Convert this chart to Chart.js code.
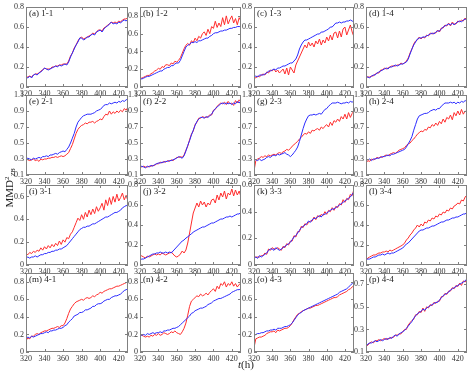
<!DOCTYPE html>
<html>
<head>
<meta charset="utf-8">
<script src="https://cdn.jsdelivr.net/npm/chart.js@4.4.0/dist/chart.umd.min.js"></script>
<style>
  body { margin: 0; background: #fff; width: 474px; height: 375px; position: relative; overflow: hidden; font-family: "Liberation Serif", serif; }
  canvas { position: absolute; z-index: 1; }
  #ylab { position: absolute; z-index: 5; left: -33px; top: 181px; width: 80px; height: 14px; line-height: 14px; text-align: center; transform: rotate(-90deg); font-size: 11px; color: #222; white-space: nowrap; }
  #ylab sup { font-size: 7px; vertical-align: 4px; }
  #ylab sub { font-size: 7px; vertical-align: -2px; font-style: italic; }
  #xlab { position: absolute; z-index: 5; left: 238px; top: 358px; font-size: 11px; line-height: 12px; color: #222; }
</style>
</head>
<body>
<div id="ylab">MMD<sup>2</sup><sub>ZB</sub></div>
<div id="xlab"><i>t</i>(h)</div>
<script>
// time axis (hours)
const hours = [320,322,324,326,328,330,332,334,336,338,340,342,344,346,348,350,352,354,356,358,
  360,362,364,366,368,370,372,374,376,378,380,382,384,386,388,390,392,394,396,398,
  400,402,404,406,408,410,412,414,416,418,420,422,424,426,428,430];
const xTicks = [320, 340, 360, 380, 400, 420];

const panelTitles = ['(a) 1-1','(b) 1-2','(c) 1-3','(d) 1-4','(e) 2-1','(f) 2-2','(g) 2-3','(h) 2-4',
  '(i) 3-1','(j) 3-2','(k) 3-3','(l) 3-4','(m) 4-1','(n) 4-2','(o) 4-3','(p) 4-4'];
const yMins = [0,0,0,0, 0.1,0.1,0.1,0.1, 0,0,0,0, 0,0,0,0.1];
const yMaxs = [0.8,0.9,0.8,0.8, 1.1,1.1,1.1,1.1, 0.7,0.8,0.6,0.8, 0.9,0.9,0.9,0.8];
const ticks08 = [0,0.2,0.4,0.6,0.8];
const ticks11 = [0.1,0.3,0.5,0.7,0.9,1.1];
const ticks06 = [0,0.2,0.4,0.6];
const ticks07 = [0.1,0.3,0.5,0.7];
const yTickSets = [ticks08,ticks08,ticks08,ticks08, ticks11,ticks11,ticks11,ticks11,
  ticks06,ticks08,ticks06,ticks08, ticks08,ticks08,ticks08,ticks07];

// blue series
const blueA = [.10,.09,.11,.09,.12,.13,.12,.14,.15,.17,.19,.18,.17,.18,.19,.20,.21,.20,.22,.21,.22,.23,.22,.25,.30,.34,.38,.42,.45,.49,.49,.47,.48,.50,.50,.52,.53,.52,.55,.56,.57,.55,.58,.60,.61,.63,.65,.63,.64,.63,.65,.64,.66,.67,.66,.68];
const blueB = [.10,.09,.10,.11,.12,.12,.13,.14,.15,.16,.17,.18,.18,.20,.21,.22,.22,.24,.24,.26,.27,.27,.30,.35,.40,.45,.47,.48,.50,.50,.51,.50,.52,.52,.53,.54,.55,.55,.57,.58,.60,.61,.61,.62,.63,.63,.64,.64,.65,.66,.66,.67,.67,.68,.68,.68];
const blueC = [.10,.11,.10,.12,.12,.12,.13,.14,.16,.16,.17,.18,.17,.19,.19,.20,.21,.21,.22,.23,.24,.24,.26,.28,.32,.38,.42,.45,.47,.47,.48,.49,.50,.51,.52,.53,.53,.55,.55,.56,.57,.58,.60,.60,.62,.64,.64,.65,.64,.65,.65,.66,.66,.67,.66,.65];
const blueD = [.10,.10,.09,.11,.12,.12,.14,.15,.16,.17,.18,.19,.18,.20,.20,.21,.22,.21,.22,.23,.23,.24,.25,.28,.33,.38,.42,.45,.48,.49,.49,.50,.50,.51,.52,.53,.54,.53,.55,.56,.56,.58,.60,.61,.62,.63,.62,.64,.62,.64,.65,.66,.65,.67,.68,.67];
const blueE = [.30,.31,.30,.29,.31,.30,.31,.32,.31,.33,.33,.34,.33,.35,.35,.36,.37,.36,.38,.39,.40,.39,.42,.45,.50,.56,.62,.70,.76,.79,.82,.84,.85,.86,.86,.86,.87,.88,.90,.91,.92,.94,.97,.98,.98,1.00,.99,1.00,1.01,1.00,1.02,1.01,1.03,1.02,1.04,1.05];
const blueF = [.20,.21,.20,.19,.21,.20,.22,.21,.23,.24,.25,.25,.26,.26,.27,.27,.28,.28,.29,.30,.31,.33,.32,.31,.34,.40,.47,.53,.60,.66,.72,.77,.80,.82,.82,.81,.83,.82,.84,.86,.90,.93,.95,.97,.99,1.00,.99,1.00,.99,1.00,.98,1.00,.99,1.02,1.00,1.03];
const blueG = [.30,.29,.28,.30,.28,.29,.30,.32,.33,.32,.34,.35,.34,.36,.35,.36,.37,.38,.36,.35,.33,.35,.38,.41,.45,.52,.60,.68,.75,.80,.84,.85,.85,.86,.85,.86,.87,.86,.89,.92,.93,.96,.98,1.00,1.00,1.00,1.01,1.00,.99,1.00,1.00,1.01,1.00,1.02,1.01,1.03];
const blueH = [.30,.29,.30,.28,.30,.30,.31,.31,.32,.33,.33,.34,.35,.34,.36,.36,.37,.38,.39,.40,.41,.42,.45,.49,.53,.58,.66,.73,.80,.84,.85,.86,.87,.87,.88,.90,.91,.92,.91,.93,.93,.96,.98,1.00,1.00,1.00,1.01,1.00,1.01,.99,1.01,1.00,1.02,1.01,1.03,1.02];
const blueI = [.06,.07,.06,.07,.07,.08,.07,.08,.09,.09,.10,.10,.11,.11,.12,.12,.13,.13,.14,.14,.15,.16,.17,.19,.21,.23,.25,.27,.29,.31,.32,.33,.33,.34,.34,.35,.36,.36,.37,.38,.39,.40,.41,.42,.42,.43,.44,.45,.46,.46,.47,.48,.50,.51,.52,.52];
const blueJ = [.05,.06,.06,.07,.08,.09,.10,.11,.11,.12,.12,.13,.12,.12,.13,.12,.13,.12,.14,.16,.18,.20,.22,.24,.25,.27,.28,.30,.31,.33,.34,.35,.36,.37,.38,.38,.39,.40,.41,.42,.42,.43,.44,.45,.46,.46,.47,.48,.48,.49,.48,.49,.50,.51,.51,.53];
const blueK = [.05,.06,.05,.07,.06,.07,.08,.09,.11,.12,.12,.11,.13,.12,.11,.12,.13,.14,.15,.16,.17,.19,.21,.22,.24,.26,.28,.29,.30,.31,.33,.32,.34,.35,.35,.36,.37,.36,.38,.38,.39,.40,.41,.42,.42,.43,.44,.45,.46,.47,.48,.49,.50,.51,.53,.55];
const blueL = [.05,.06,.06,.07,.08,.08,.09,.10,.10,.11,.10,.11,.12,.11,.12,.12,.13,.14,.15,.16,.17,.19,.21,.22,.24,.26,.28,.30,.32,.34,.35,.35,.36,.37,.37,.38,.39,.39,.40,.41,.42,.43,.43,.44,.45,.45,.46,.47,.47,.48,.48,.49,.50,.51,.51,.53];
const blueM = [.15,.17,.16,.18,.17,.18,.19,.20,.21,.21,.22,.23,.22,.24,.24,.25,.25,.26,.27,.27,.28,.30,.31,.34,.36,.38,.41,.42,.43,.45,.45,.46,.48,.48,.49,.50,.52,.52,.54,.55,.55,.56,.58,.59,.60,.60,.62,.63,.64,.64,.65,.66,.68,.70,.71,.72];
const blueN = [.20,.19,.20,.19,.21,.20,.21,.22,.21,.22,.22,.23,.22,.24,.24,.25,.25,.26,.27,.27,.28,.29,.31,.33,.35,.37,.39,.41,.44,.45,.47,.48,.49,.50,.50,.51,.52,.54,.55,.56,.58,.59,.60,.61,.61,.62,.63,.64,.65,.66,.68,.69,.70,.71,.71,.72];
const blueO = [.18,.20,.21,.21,.22,.22,.23,.24,.24,.25,.25,.26,.25,.27,.27,.27,.28,.29,.29,.30,.31,.33,.36,.39,.42,.44,.45,.47,.48,.49,.50,.51,.52,.53,.54,.55,.56,.57,.58,.59,.60,.61,.62,.63,.64,.65,.66,.68,.69,.70,.71,.72,.74,.76,.78,.80];
const blueP = [.15,.17,.18,.18,.19,.20,.19,.20,.21,.20,.21,.22,.21,.23,.22,.24,.25,.24,.26,.27,.28,.29,.31,.33,.35,.37,.40,.42,.44,.45,.46,.48,.47,.49,.50,.51,.52,.53,.54,.54,.56,.58,.60,.61,.62,.63,.65,.66,.67,.68,.69,.70,.71,.72,.73,.75];

// red series
const redA = [.10,.10,.11,.10,.12,.13,.13,.14,.16,.17,.19,.18,.18,.18,.20,.20,.21,.21,.22,.22,.23,.23,.23,.26,.31,.34,.39,.42,.46,.49,.50,.48,.49,.50,.51,.52,.54,.53,.55,.57,.57,.56,.59,.60,.62,.63,.65,.64,.65,.64,.66,.65,.67,.68,.68,.70];
const redB = [.10,.10,.11,.12,.13,.13,.15,.16,.18,.19,.21,.20,.23,.22,.25,.25,.24,.27,.26,.29,.28,.30,.33,.38,.43,.47,.49,.47,.52,.50,.55,.52,.57,.55,.60,.62,.58,.65,.60,.68,.66,.74,.67,.72,.68,.78,.70,.80,.71,.76,.80,.72,.77,.70,.78,.74];
const redC = [.10,.09,.11,.10,.12,.13,.12,.15,.14,.17,.16,.18,.15,.17,.14,.16,.18,.13,.19,.12,.20,.17,.14,.22,.26,.30,.34,.38,.42,.39,.45,.41,.44,.40,.46,.43,.48,.42,.47,.44,.50,.46,.52,.47,.54,.55,.49,.56,.50,.58,.60,.52,.57,.62,.55,.50];
const redD = [.10,.10,.10,.11,.11,.13,.14,.14,.17,.17,.19,.18,.19,.20,.21,.21,.21,.22,.22,.24,.23,.24,.26,.29,.34,.38,.43,.46,.47,.50,.48,.50,.49,.52,.51,.54,.53,.54,.54,.57,.55,.59,.59,.62,.61,.64,.61,.65,.63,.63,.66,.65,.67,.66,.69,.66];
const redE = [.30,.29,.28,.29,.30,.28,.29,.27,.30,.29,.30,.30,.31,.31,.32,.32,.33,.32,.33,.34,.33,.34,.36,.38,.43,.48,.55,.62,.67,.70,.72,.73,.75,.74,.76,.76,.77,.75,.77,.78,.80,.79,.83,.86,.85,.90,.86,.89,.87,.90,.88,.91,.89,.93,.91,.95];
const redF = [.21,.20,.21,.20,.20,.21,.21,.22,.22,.24,.24,.26,.25,.27,.26,.28,.27,.29,.28,.30,.32,.32,.33,.32,.35,.41,.46,.54,.61,.65,.73,.76,.81,.81,.83,.82,.82,.83,.85,.85,.91,.92,.96,.98,1.00,.99,1.01,.98,1.02,.99,1.00,.97,1.03,1.00,1.04,1.01];
const redG = [.15,.28,.30,.31,.33,.32,.34,.33,.35,.34,.35,.36,.35,.37,.38,.37,.39,.40,.42,.41,.43,.46,.48,.50,.52,.55,.57,.60,.62,.61,.64,.62,.66,.65,.67,.68,.66,.70,.68,.71,.73,.70,.76,.72,.78,.76,.80,.77,.83,.80,.86,.80,.88,.82,.87,.90];
const redH = [.25,.28,.27,.30,.29,.30,.32,.31,.33,.32,.34,.35,.34,.36,.37,.38,.37,.39,.41,.42,.43,.44,.47,.49,.50,.53,.55,.58,.61,.63,.65,.64,.67,.66,.70,.69,.73,.71,.75,.72,.77,.74,.80,.76,.82,.80,.85,.79,.88,.84,.90,.85,.92,.86,.90,.88];
const redI = [.10,.09,.11,.10,.12,.11,.13,.12,.15,.13,.16,.14,.17,.15,.18,.16,.19,.17,.21,.18,.22,.20,.24,.23,.27,.29,.33,.37,.41,.39,.44,.40,.46,.42,.48,.44,.49,.45,.51,.47,.50,.54,.48,.57,.52,.59,.53,.60,.55,.62,.56,.59,.63,.57,.61,.56];
const redJ = [.10,.09,.08,.07,.09,.08,.09,.10,.11,.10,.11,.10,.12,.11,.10,.11,.12,.13,.11,.09,.08,.09,.11,.14,.12,.15,.22,.32,.42,.52,.57,.62,.58,.64,.60,.63,.58,.62,.60,.65,.66,.62,.70,.65,.72,.68,.74,.66,.72,.70,.76,.69,.75,.70,.74,.68];
const redK = [.05,.06,.06,.06,.07,.07,.09,.08,.12,.11,.13,.12,.12,.13,.12,.11,.14,.13,.16,.15,.18,.18,.22,.21,.25,.25,.29,.28,.31,.30,.32,.33,.33,.36,.34,.37,.36,.38,.37,.40,.38,.41,.40,.43,.41,.44,.43,.46,.45,.49,.47,.50,.49,.53,.52,.57];
const redL = [.05,.07,.08,.09,.10,.10,.11,.12,.12,.13,.13,.14,.13,.15,.14,.15,.16,.17,.18,.19,.20,.22,.25,.27,.30,.32,.35,.37,.40,.38,.41,.39,.43,.42,.45,.44,.47,.46,.49,.48,.51,.50,.53,.52,.55,.54,.57,.56,.59,.60,.62,.61,.65,.64,.68,.70];
const redM = [.13,.16,.15,.18,.18,.20,.21,.20,.22,.23,.24,.24,.25,.26,.27,.27,.28,.29,.28,.30,.30,.33,.38,.44,.49,.52,.55,.57,.58,.59,.60,.59,.61,.62,.61,.62,.64,.63,.65,.66,.68,.67,.69,.70,.71,.72,.72,.73,.74,.75,.75,.76,.77,.78,.79,.80];
const redN = [.20,.19,.18,.17,.18,.17,.19,.18,.20,.19,.21,.19,.20,.22,.21,.20,.21,.23,.22,.24,.22,.21,.20,.23,.27,.33,.42,.52,.58,.60,.62,.64,.63,.66,.64,.65,.67,.65,.68,.70,.72,.69,.75,.72,.78,.76,.80,.74,.78,.76,.80,.75,.78,.74,.77,.78];
const redO = [.05,.15,.16,.17,.17,.18,.19,.21,.22,.23,.23,.24,.22,.25,.24,.25,.26,.27,.27,.28,.30,.33,.37,.40,.43,.44,.46,.47,.48,.49,.50,.50,.51,.52,.53,.53,.54,.55,.56,.57,.58,.59,.60,.61,.62,.62,.63,.65,.66,.67,.68,.69,.71,.72,.74,.76];
const redP = [.15,.16,.18,.19,.18,.20,.20,.21,.20,.21,.22,.21,.22,.22,.23,.23,.25,.25,.26,.26,.28,.30,.30,.34,.36,.38,.39,.43,.43,.46,.45,.49,.46,.50,.49,.52,.51,.54,.53,.55,.55,.59,.59,.62,.61,.64,.64,.67,.66,.69,.68,.71,.69,.73,.72,.74];

const blueSeries = [blueA,blueB,blueC,blueD,blueE,blueF,blueG,blueH,blueI,blueJ,blueK,blueL,blueM,blueN,blueO,blueP];
const redSeries = [redA,redB,redC,redD,redE,redF,redG,redH,redI,redJ,redK,redL,redM,redN,redO,redP];

// panel frames in page pixels
const colLefts = [26, 140, 254, 366];
const colWidths = [102, 101, 100, 101];
const rowTops = [7, 95, 185, 273];
const rowHeights = [80, 80, 80, 79];

const framePlugin = {
  id: 'frame',
  afterDraw(chart, args, opts) {
    const { ctx, chartArea: a, scales } = chart;
    ctx.save();
    ctx.strokeStyle = '#808080';
    ctx.lineWidth = 1;
    ctx.strokeRect(a.left + 0.5, a.top + 0.5, a.right - a.left - 1, a.bottom - a.top - 1);
    ctx.beginPath();
    scales.x.ticks.forEach(t => {
      const px = Math.round(scales.x.getPixelForValue(t.value)) + 0.5;
      ctx.moveTo(px, a.bottom); ctx.lineTo(px, a.bottom - 3);
      ctx.moveTo(px, a.top); ctx.lineTo(px, a.top + 3);
    });
    scales.y.ticks.forEach(t => {
      const py = Math.round(scales.y.getPixelForValue(t.value)) + 0.5;
      ctx.moveTo(a.left, py); ctx.lineTo(a.left + 3, py);
      ctx.moveTo(a.right, py); ctx.lineTo(a.right - 3, py);
    });
    ctx.stroke();
    ctx.fillStyle = '#222';
    ctx.font = '9px "Liberation Serif"';
    ctx.textBaseline = 'top';
    ctx.fillText(opts.title, a.left + 3, a.top + 2);
    ctx.restore();
  }
};

for (let k = 0; k < 16; k++) {
  const r = Math.floor(k / 4), c = k % 4;
  const L = colLefts[c], T = rowTops[r], W = colWidths[c], H = rowHeights[r];
  const canvas = document.createElement('canvas');
  canvas.width = W + 26 + 5;
  canvas.height = H + 8 + 14;
  canvas.style.left = (L - 26) + 'px';
  canvas.style.top = (T - 8) + 'px';
  document.body.appendChild(canvas);

  const yTicks = yTickSets[k];
  new Chart(canvas, {
    type: 'line',
    data: {
      datasets: [{
        data: hours.map((h, i) => ({ x: h, y: blueSeries[k][i] })),
        borderColor: '#2b2bff',
        borderWidth: 1,
        pointRadius: 0,
        tension: 0
      }, {
        data: hours.map((h, i) => ({ x: h, y: redSeries[k][i] })),
        borderColor: '#ff2d2d',
        borderWidth: 1,
        pointRadius: 0,
        tension: 0
      }]
    },
    options: {
      responsive: false,
      animation: false,
      devicePixelRatio: 1,
      layout: { padding: { left: 2, top: 8, right: 5, bottom: 0 } },
      plugins: {
        legend: { display: false },
        tooltip: { enabled: false },
        frame: { title: panelTitles[k] }
      },
      scales: {
        x: {
          type: 'linear',
          min: 320,
          max: 430,
          grid: { display: false, drawTicks: false },
          border: { display: false },
          afterBuildTicks: ax => { ax.ticks = xTicks.map(v => ({ value: v })); },
          afterFit: s => { s.height = 14; },
          ticks: {
            autoSkip: false,
            maxRotation: 0,
            padding: 2,
            color: '#333',
            font: { family: '"Liberation Serif"', size: 8 },
            callback: v => String(v)
          }
        },
        y: {
          min: yMins[k],
          max: yMaxs[k],
          grid: { display: false, drawTicks: false },
          border: { display: false },
          afterBuildTicks: ax => { ax.ticks = yTicks.map(v => ({ value: v })); },
          afterFit: s => { s.width = 24; },
          ticks: {
            autoSkip: false,
            padding: 2,
            color: '#333',
            font: { family: '"Liberation Serif"', size: 8 },
            callback: v => v === 0 ? '0' : v.toFixed(1)
          }
        }
      }
    },
    plugins: [framePlugin]
  });
}
</script>
</body>
</html>
